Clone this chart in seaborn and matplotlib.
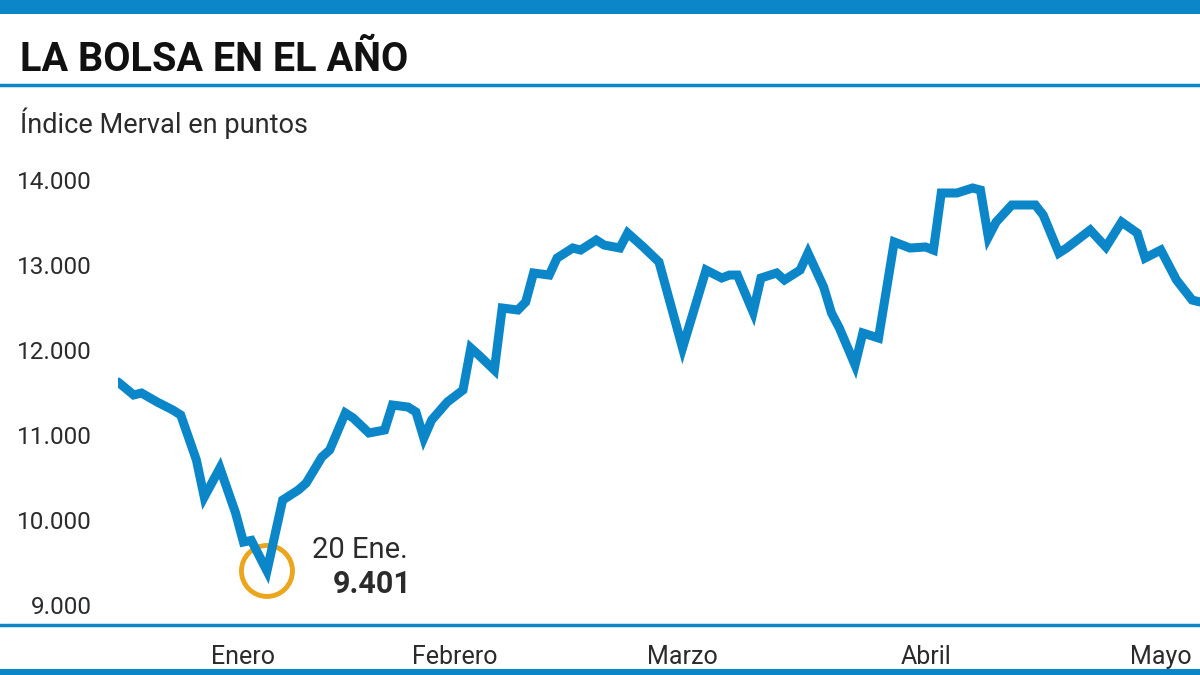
import numpy as np
import pandas as pd
import matplotlib.pyplot as plt
import seaborn as sns
from matplotlib.lines import Line2D
from matplotlib.patches import Rectangle

# datos (dia desde el 1 de enero, indice Merval)
dias = [0, 2, 3, 5, 7, 8, 10, 11, 13, 15, 16, 17, 19, 21, 23, 24, 26, 27, 29, 30,
        32, 34, 35, 37, 38, 39, 40, 42, 44, 45, 46, 48, 49, 51, 52, 53, 55, 56, 58, 59,
        61, 62, 64, 65, 67, 69, 72, 75, 77, 78, 79, 81, 82, 84, 85, 87, 88, 90, 91, 92,
        94, 95, 97, 99, 101, 103, 104, 105, 107, 109, 110, 111, 112, 114, 117, 118, 120, 121, 124, 126,
        128, 130, 131, 133, 135, 137, 138]
valores = [11624, 11471, 11494, 11388, 11294, 11235, 10706, 10271, 10612, 10082, 9741, 9760, 9401, 10235, 10353, 10435, 10741, 10824, 11259, 11200,
           11024, 11059, 11353, 11329, 11271, 10965, 11176, 11388, 11529, 12024, 11941, 11765, 12494, 12471, 12565, 12906, 12882, 13082, 13200, 13176,
           13294, 13235, 13200, 13376, 13212, 13035, 12024, 12941, 12847, 12882, 12882, 12447, 12847, 12906, 12824, 12941, 13141, 12741, 12435, 12259,
           11824, 12200, 12141, 13271, 13200, 13212, 13176, 13847, 13847, 13906, 13882, 13329, 13506, 13706, 13706, 13588, 13141, 13200, 13412, 13212,
           13506, 13376, 13082, 13176, 12824, 12588, 12565]

meses = ["Enero", "Febrero", "Marzo", "Abril", "Mayo"]
meses_pos = [16, 43, 72, 103, 133]

yticks = [9000, 10000, 11000, 12000, 13000, 14000]
ytick_labels = ["9.000", "10.000", "11.000", "12.000", "13.000", "14.000"]

AZUL = "#0b87c9"
ORO = "#eba61d"
TEXTO = "#2b2b2b"

df = pd.DataFrame({"dia": dias, "merval": valores})

sns.set_theme(style="white")
plt.rcParams['font.family'] = ['Roboto', 'DejaVu Sans']

W, H = 1200, 675
fig = plt.figure(figsize=(12, 6.75), dpi=100)
ax = fig.add_axes([118 / W, (H - 620) / H, 1 - 118 / W, (620 - 150) / H])

# minimo del periodo
i_min = int(np.argmin(valores))
dia_min, val_min = dias[i_min], valores[i_min]
ax.scatter([dia_min], [val_min], s=1350, facecolors="none", edgecolors=ORO,
           linewidths=3.5, zorder=1)

sns.lineplot(data=df, x="dia", y="merval", ax=ax, color=AZUL, linewidth=6.5,
             solid_joinstyle="miter", zorder=2)

ax.set_xlim(0, 138)
ax.set_ylim(8824, 14353)
ax.set_xlabel("")
ax.set_ylabel("")
ax.set_yticks(yticks, ytick_labels)
ax.set_xticks(meses_pos, meses)
ax.tick_params(axis="y", length=0, pad=19, labelsize=17.5, labelcolor=TEXTO)
ax.tick_params(axis="x", length=0, pad=18, labelsize=18, labelcolor=TEXTO)
for s in ax.spines.values():
    s.set_visible(False)
ax.grid(False)

ax.annotate("20 Ene.", xy=(dia_min, val_min), xytext=(45, 21),
            textcoords="offset pixels", ha="left", va="center",
            fontsize=21, color=TEXTO)
ax.annotate(f"{val_min:,}".replace(",", "."), xy=(dia_min, val_min),
            xytext=(145, -13), textcoords="offset pixels", ha="right",
            va="center", fontsize=22, fontweight="bold", color=TEXTO)

# titulos
fig.text(20 / W, 1 - 60 / H, "LA BOLSA EN EL AÑO", fontsize=28.5,
         fontweight="bold", va="center", ha="left", color="#111111")
fig.text(20 / W, 1 - 123 / H, "Índice Merval en puntos", fontsize=19.5,
         va="center", ha="left", color=TEXTO)

# barras y filetes azules
fig.add_artist(Rectangle((0, 1 - 14 / H), 1, 14 / H, transform=fig.transFigure,
                         color=AZUL, lw=0))
fig.add_artist(Rectangle((0, 0), 1, 6 / H, transform=fig.transFigure,
                         color=AZUL, lw=0))
for yp in [85, 625]:
    fig.add_artist(Line2D([0, 1], [1 - yp / H] * 2, transform=fig.transFigure,
                          color=AZUL, lw=2.5))

fig.savefig("out.png", dpi=100)
